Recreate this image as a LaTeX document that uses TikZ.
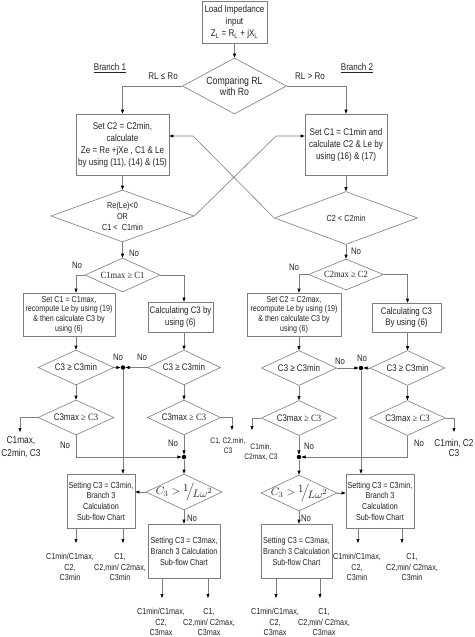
\documentclass[tikz,border=0pt]{standalone}
\usepackage{fontspec}
\setmainfont{Liberation Sans}[FakeStretch=0.83]
\newfontfamily\serf{Liberation Serif}[FakeStretch=0.9]
\usetikzlibrary{arrows.meta,shapes.geometric}
\newcommand\myfs[2]{\fontsize{#1}{#2}\selectfont}
\newcommand\cform{$C_{3} > \raisebox{3.5pt}{$1$}\kern-2.5pt\Big/\kern-1.5pt\raisebox{-2.5pt}{$L\omega^{2}$}$}
\definecolor{lg}{RGB}{125,125,125}
\definecolor{tc}{RGB}{35,35,35}
\begin{document}
\begin{tikzpicture}[x=1pt,y=-1pt,line width=0.6pt,
  box/.style={draw=lg,rectangle,inner sep=1pt,align=center,text=tc,font=\myfs{9.7}{12}},
  dia/.style={draw=lg,diamond,inner sep=0pt},
  dtxt/.style={align=center,inner sep=0pt,text=tc},
  arr/.style={draw=lg,-{Triangle[length=4pt,width=3pt,color=black]}},
  ln/.style={draw=lg},
  lab/.style={align=center,inner sep=0pt,text=tc},
  notxt/.style={inner sep=0pt,text=tc,font=\myfs{9.4}{11}},
  dot/.style={circle,fill=black,inner sep=0pt,minimum size=4.5pt}]
\useasboundingbox (0,0) rectangle (474,637);
\fill[white] (0,0) rectangle (474,637);

% ---------- boxes ----------
\node[box,minimum width=65pt,minimum height=42pt] (top) at (234.5,22) {Load Impedance\\input\\Z\textsubscript{L} = R\textsubscript{L} + jX\textsubscript{L}};
\node[box,minimum width=93pt,minimum height=61pt] (B1) at (122.5,144.5) {Set C2 = C2min,\\calculate\\Ze = Re +jXe , C1 \& Le\\by using (11), (14) \& (15)};
\node[box,minimum width=82pt,minimum height=61pt] (B2) at (346,144.5) {Set C1 = C1min and\\calculate C2 \& Le by\\using (16) \& (17)};
\node[box,minimum width=92pt,minimum height=43pt,font=\myfs{8.6}{9.6}] (B3) at (69,314.5) {Set C1 = C1max,\\recompute Le by using (19)\\\& then calculate C3 by\\using (6)};
\node[box,minimum width=65pt,minimum height=30pt,font=\myfs{9.5}{11.5}] (B4) at (180.5,317) {Calculating C3 by\\using (6)};
\node[box,minimum width=94pt,minimum height=43pt,font=\myfs{8.6}{9.6}] (B5) at (294,314.5) {Set C2 = C2max,\\recompute Le by using (19)\\\& then calculate C3 by\\using (6)};
\node[box,minimum width=69pt,minimum height=29pt,font=\myfs{9.5}{11.5}] (B6) at (406.5,317.5) {Calculating C3\\By using (6)};
\node[box,minimum width=68pt,minimum height=54pt,font=\myfs{8.7}{10.7}] (B7) at (101,501) {Setting C3 = C3min,\\Branch 3\\Calculation\\Sub-flow Chart};
\node[box,minimum width=72pt,minimum height=54pt,font=\myfs{8.7}{11}] (B8) at (184,551) {Setting C3 = C3max,\\Branch 3 Calculation\\Sub-flow Chart};
\node[box,minimum width=68pt,minimum height=54pt,font=\myfs{8.7}{10.7}] (B9) at (380,501) {Setting C3 = C3min,\\Branch 3\\Calculation\\Sub-flow Chart};
\node[box,minimum width=71pt,minimum height=54pt,font=\myfs{8.7}{11}] (B10) at (296.5,551) {Setting C3 = C3max,\\Branch 3 Calculation\\Sub-flow Chart};

% ---------- diamonds ----------
\node[dia,minimum width=104pt,minimum height=56pt] (D0) at (234.5,86) {};
\node[dtxt,font=\myfs{10.5}{11.5}] (t0) at (D0) {Comparing RL\\with Ro};
\node[dia,minimum width=143pt,minimum height=52pt] (D1) at (122.5,216) {};
\node[dtxt,font=\myfs{8.8}{11}] (t1) at (D1) {Re(Le)<0\\OR\\C1 <\ \ C1min};
\node[dia,minimum width=143pt,minimum height=53pt] (D2) at (346,218) {};
\node[dtxt,font=\myfs{8.8}{11}] (t2) at (D2) {C2 < C2min};
\node[dia,minimum width=75pt,minimum height=34pt] (D3) at (122.5,275) {};
\node[dtxt,font=\serf\myfs{9.5}{11}] (t3) at (D3) {C1max ≥ C1};
\node[dia,minimum width=75pt,minimum height=31pt] (D4) at (346,274.5) {};
\node[dtxt,font=\serf\myfs{9.5}{11}] (t4) at (D4) {C2max ≥ C2};
\node[dia,minimum width=76pt,minimum height=35pt] (D5) at (76,367.5) {};
\node[dtxt,font=\myfs{9.6}{11}] (t5) at (D5) {C3 ≥ C3min};
\node[dia,minimum width=73pt,minimum height=35pt] (D6) at (184,367.5) {};
\node[dtxt,font=\myfs{9.6}{11}] (t6) at (D6) {C3 ≥ C3min};
\node[dia,minimum width=75pt,minimum height=35pt] (D7) at (299,368) {};
\node[dtxt,font=\myfs{9.6}{11}] (t7) at (D7) {C3 ≥ C3min};
\node[dia,minimum width=75pt,minimum height=35pt] (D8) at (407.5,368) {};
\node[dtxt,font=\myfs{9.6}{11}] (t8) at (D8) {C3 ≥ C3min};
\node[dia,minimum width=76pt,minimum height=35pt] (D9) at (76,417.5) {};
\node[dtxt,font=\myfs{9.6}{11}] (t9) at (D9) {C3max {\serf ≥ C3}};
\node[dia,minimum width=73pt,minimum height=35pt] (D10) at (184,417.5) {};
\node[dtxt,font=\myfs{9.6}{11}] (t10) at (D10) {C3max {\serf ≥ C3}};
\node[dia,minimum width=75pt,minimum height=35pt] (D11) at (299,418) {};
\node[dtxt,font=\myfs{9.6}{11}] (t11) at (D11) {C3max {\serf ≥ C3}};
\node[dia,minimum width=76pt,minimum height=35pt] (D12) at (407.5,418) {};
\node[dtxt,font=\myfs{9.6}{11}] (t12) at (D12) {C3max {\serf ≥ C3}};
\node[dia,minimum width=76pt,minimum height=36pt] (D13) at (184,492) {};
\node[dtxt,font=\myfs{11}{13}] (t13) at (D13) {\cform};
\node[dia,minimum width=76pt,minimum height=36pt] (D14) at (299,493) {};
\node[dtxt,font=\myfs{11}{13}] (t14) at (D14) {\cform};

% ---------- junction dots ----------
\node[dot] (j1) at (123,367.5) {};
\node[dot] (j2) at (361,368) {};
\node[dot] (j3) at (184,457) {};
\node[dot] (j4) at (299,457) {};

% ---------- free texts ----------
\node[lab,font=\myfs{9.7}{11}] (br1) at (110,68) {\underline{Branch 1}};
\node[lab,font=\myfs{9.7}{11}] (br2) at (357,68) {\underline{Branch 2}};
\node[lab,font=\myfs{9.7}{11}] (c1) at (163,76.5) {RL ≤ Ro};
\node[lab,font=\myfs{9.7}{11}] (c2) at (310,76.5) {RL > Ro};

\node[notxt] (n1) at (134,253) {No};
\node[notxt] (n2) at (77,265) {No};
\node[notxt] (n3) at (356,251) {No};
\node[notxt] (n4) at (294,267) {No};
\node[notxt] (n5) at (118,357) {No};
\node[notxt] (n6) at (142,357) {No};
\node[notxt] (n7) at (65,445) {No};
\node[notxt] (n8) at (173,443) {No};
\node[notxt] (n9) at (340,361) {No};
\node[notxt] (n10) at (362,358) {No};
\node[notxt] (n11) at (309,446) {No};
\node[notxt] (n12) at (419,443) {No};
\node[notxt] (n13) at (192,518) {No};
\node[notxt] (n14) at (306,518) {No};

% side result labels
\node[lab,font=\myfs{10}{12.5}] (L1) at (21,447) {C1max,\\C2min, C3};
\node[lab,font=\myfs{8}{10}] (L2) at (228,446) {C1, C2,min,\\C3};
\node[lab,font=\myfs{8}{10}] (L3) at (261,452.5) {C1min,\\C2max, C3};
\node[lab,font=\myfs{10}{10.5}] (L4) at (454,448) {C1min, C2\\C3};

% bottom result labels
\node[lab,font=\myfs{8.7}{10.5}] (R1) at (70,567) {C1min/C1max,\\C2,\\C3min};
\node[lab,font=\myfs{8.7}{10.5}] (R2) at (120,567) {C1,\\C2,min/ C2max,\\C3min};
\node[lab,font=\myfs{8.7}{10.5}] (R3) at (161,622) {C1min/C1max,\\C2,\\C3max};
\node[lab,font=\myfs{8.7}{10.5}] (R4) at (209,622) {C1,\\C2,min/ C2max,\\C3max};
\node[lab,font=\myfs{8.7}{10.5}] (R5) at (357,567) {C1min/C1max,\\C2,\\C3min};
\node[lab,font=\myfs{8.7}{10.5}] (R6) at (412,567) {C1,\\C2,min/ C2max,\\C3min};
\node[lab,font=\myfs{8.7}{10.5}] (R7) at (275,622) {C1min/C1max,\\C2,\\C3max};
\node[lab,font=\myfs{8.7}{10.5}] (R8) at (324,622) {C1,\\C2,min/ C2max,\\C3max};

% ---------- coordinates ----------
\coordinate (k1) at (276,136);
\coordinate (k2) at (193,136);
\coordinate (e1) at (20,432);
\coordinate (e2) at (232,430);
\coordinate (e3) at (252,430);
\coordinate (e4) at (454,432);
\coordinate (a1) at (76,543);
\coordinate (a2) at (123,543);
\coordinate (a3) at (162,598);
\coordinate (a4) at (208,598);
\coordinate (a5) at (358,543);
\coordinate (a6) at (402,543);
\coordinate (a7) at (276,598);
\coordinate (a8) at (320,598);

% ---------- connectors ----------
\draw[arr] (top) -- (D0);
\draw[arr] (D0.west) -| (B1.north);
\draw[arr] (D0.east) -| (B2.north);
\draw[arr] (B1) -- (D1);
\draw[arr] (B2) -- (D2);
\draw[arr] (D1.east) -- (k1) -- (k1 -| B2.west);
\draw[arr] (D2.west) -- (k2) -- (k2 -| B1.east);
\draw[arr] (D1) -- (D3);
\draw[arr] (D2) -- (D4);
\draw[arr] (D3.west) -| (D5.north |- B3.north);
\draw[arr] (D3.east) -| (D6.north |- B4.north);
\draw[arr] (D4.west) -| (D7.north |- B5.north);
\draw[arr] (D4.east) -| (D8.north |- B6.north);
\draw[arr] (D5.north |- B3.south) -- (D5.north);
\draw[arr] (D6.north |- B4.south) -- (D6.north);
\draw[arr] (D7.north |- B5.south) -- (D7.north);
\draw[arr] (D8.north |- B6.south) -- (D8.north);
\draw[arr] (D5) -- (D9);
\draw[arr] (D6) -- (D10);
\draw[arr] (D7) -- (D11);
\draw[arr] (D8) -- (D12);
\draw[arr] (D5.east) -- (j1);
\draw[arr] (D6.west) -- (j1);
\draw[arr] (j1) -- (j1 |- B7.north);
\draw[arr] (D7.east) -- (j2);
\draw[arr] (D8.west) -- (j2);
\draw[arr] (j2) -- (j2 |- B9.north);
\draw[arr] (D9.west) -| (e1);
\draw[arr] (D10.east) -| (e2);
\draw[arr] (D11.west) -| (e3);
\draw[arr] (D12.east) -| (e4);
\draw[arr] (D9.south) |- (j3);
\draw[arr] (D10.south) -- (j3);
\draw[arr] (D12.south) |- (j4);
\draw[arr] (D11.south) -- (j4);
\draw[arr] (j3) -- (D13.north);
\draw[arr] (j4) -- (D14.north);
\draw[arr] (D13.west) -- (D13.west -| B7.east);
\draw[arr] (D14.east) -- (D14.east -| B9.west);
\draw[arr] (D13.south) -- (D13.south |- B8.north);
\draw[arr] (D14.south) -- (D14.south |- B10.north);
\draw[arr] (a1 |- B7.south) -- (a1);
\draw[arr] (a2 |- B7.south) -- (a2);
\draw[arr] (a3 |- B8.south) -- (a3);
\draw[arr] (a4 |- B8.south) -- (a4);
\draw[arr] (a5 |- B9.south) -- (a5);
\draw[arr] (a6 |- B9.south) -- (a6);
\draw[arr] (a7 |- B10.south) -- (a7);
\draw[arr] (a8 |- B10.south) -- (a8);
\end{tikzpicture}
\end{document}
